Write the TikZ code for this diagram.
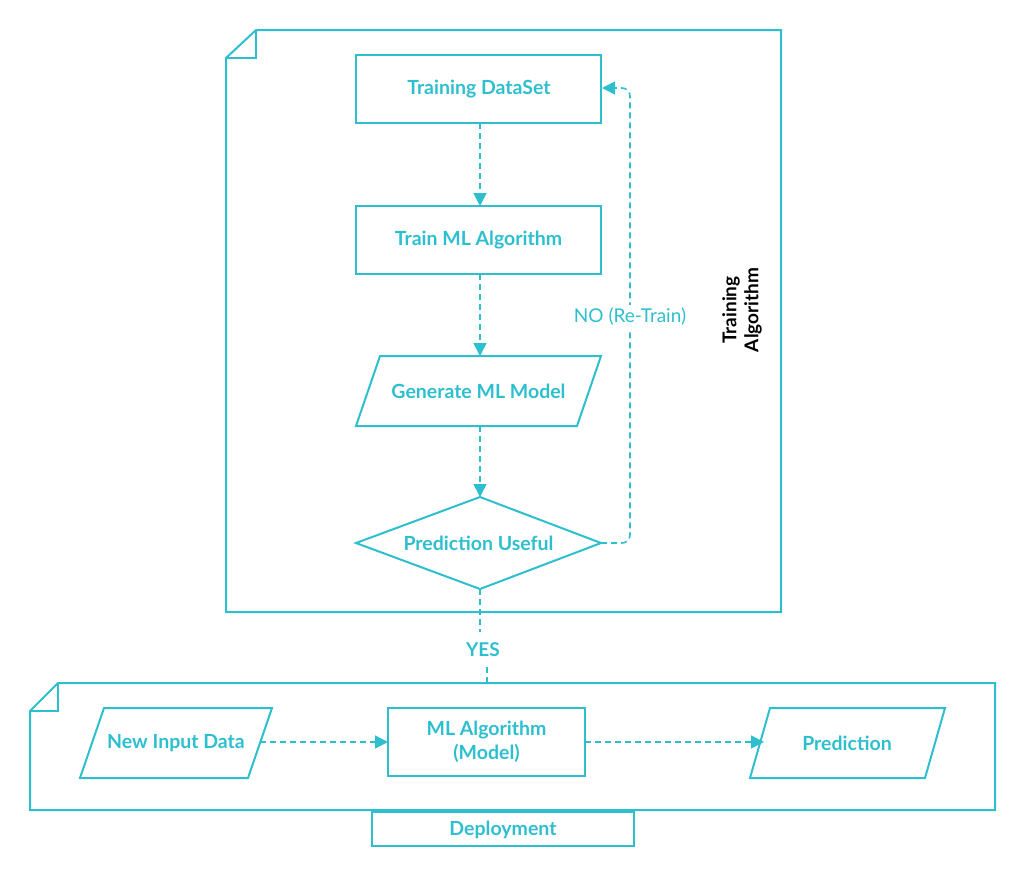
\documentclass[tikz,border=0pt]{standalone}
\usepackage{fontspec}
\setmainfont{Lato}
\usetikzlibrary{arrows.meta,shapes.geometric}
\definecolor{tc}{HTML}{2EBFCF}
\begin{document}
\begin{tikzpicture}[x=1pt,y=-1pt,
  box/.style={draw=tc,line width=2pt},
  lbl/.style={text=tc,font=\bfseries\fontsize{19.5}{24}\selectfont,align=center},
  arr/.style={draw=tc,line width=1.6pt,dash pattern=on 6pt off 4pt,-{Triangle[length=13pt,width=13pt]}},
  dl/.style={draw=tc,line width=1.6pt,dash pattern=on 6pt off 4pt}]
\useasboundingbox (0,0) rectangle (1024,876);
% training frame
\draw[box] (256,30) -- (781,30) -- (781,612) -- (226,612) -- (226,58) -- cycle;
\draw[box] (256,30) -- (256,58) -- (226,58);
\node[rotate=90,font=\bfseries\fontsize{19}{22}\selectfont,align=center] (ta) at (742,310) {Training\\Algorithm};
% nodes
\draw[box] (356,55) rectangle (601,123);
\node[lbl] (tds) at (479,89) {Training DataSet};
\draw[box] (356,206) rectangle (601,274);
\node[lbl] (tml) at (478.5,240) {Train ML Algorithm};
\draw[box] (380,356) -- (601,356) -- (577,426) -- (356,426) -- cycle;
\node[lbl] (gen) at (478.5,391) {Generate ML Model};
\draw[box] (356,543) -- (480,497) -- (601,543) -- (480,589) -- cycle;
\node[lbl] (pu) at (478.5,543) {Prediction Useful};
\draw[arr] (480,123) -- (480,206);
\draw[arr] (480,274) -- (480,356);
\draw[arr] (480,426) -- (480,497);
\draw[arr,rounded corners=8pt] (601,543) -- (630,543) -- (630,88) -- (602,88);
\node[fill=white,text=tc,font=\fontsize{19}{23}\selectfont,inner sep=3pt] (no) at (630,317) {NO (Re-Train)};
% yes
\draw[dl] (480,589) -- (480,632);
\node[text=tc,font=\bfseries\fontsize{19}{23}\selectfont] (yes) at (483,650) {YES};
\draw[dl] (487,667) -- (487,683);
% deployment frame
\draw[box] (58,683) -- (995,683) -- (995,810) -- (30,810) -- (30,711) -- cycle;
\draw[box] (58,683) -- (58,711) -- (30,711);
\draw[box] (372,812) rectangle (634,846);
\node[lbl] (dep) at (503,830) {Deployment};
\draw[box] (104,708) -- (272,708) -- (248,778) -- (80,778) -- cycle;
\node[lbl] (nid) at (176,743) {New Input Data};
\draw[box] (388,708) rectangle (585,776);
\node[lbl] (mla) at (486.5,742) {ML Algorithm\\(Model)};
\draw[box] (770,708) -- (945,708) -- (925,778) -- (750,778) -- cycle;
\node[lbl] (pred) at (847,743) {Prediction};
\draw[arr] (260,742) -- (388,742);
\draw[arr] (585,742) -- (764,742);
\end{tikzpicture}
\end{document}
